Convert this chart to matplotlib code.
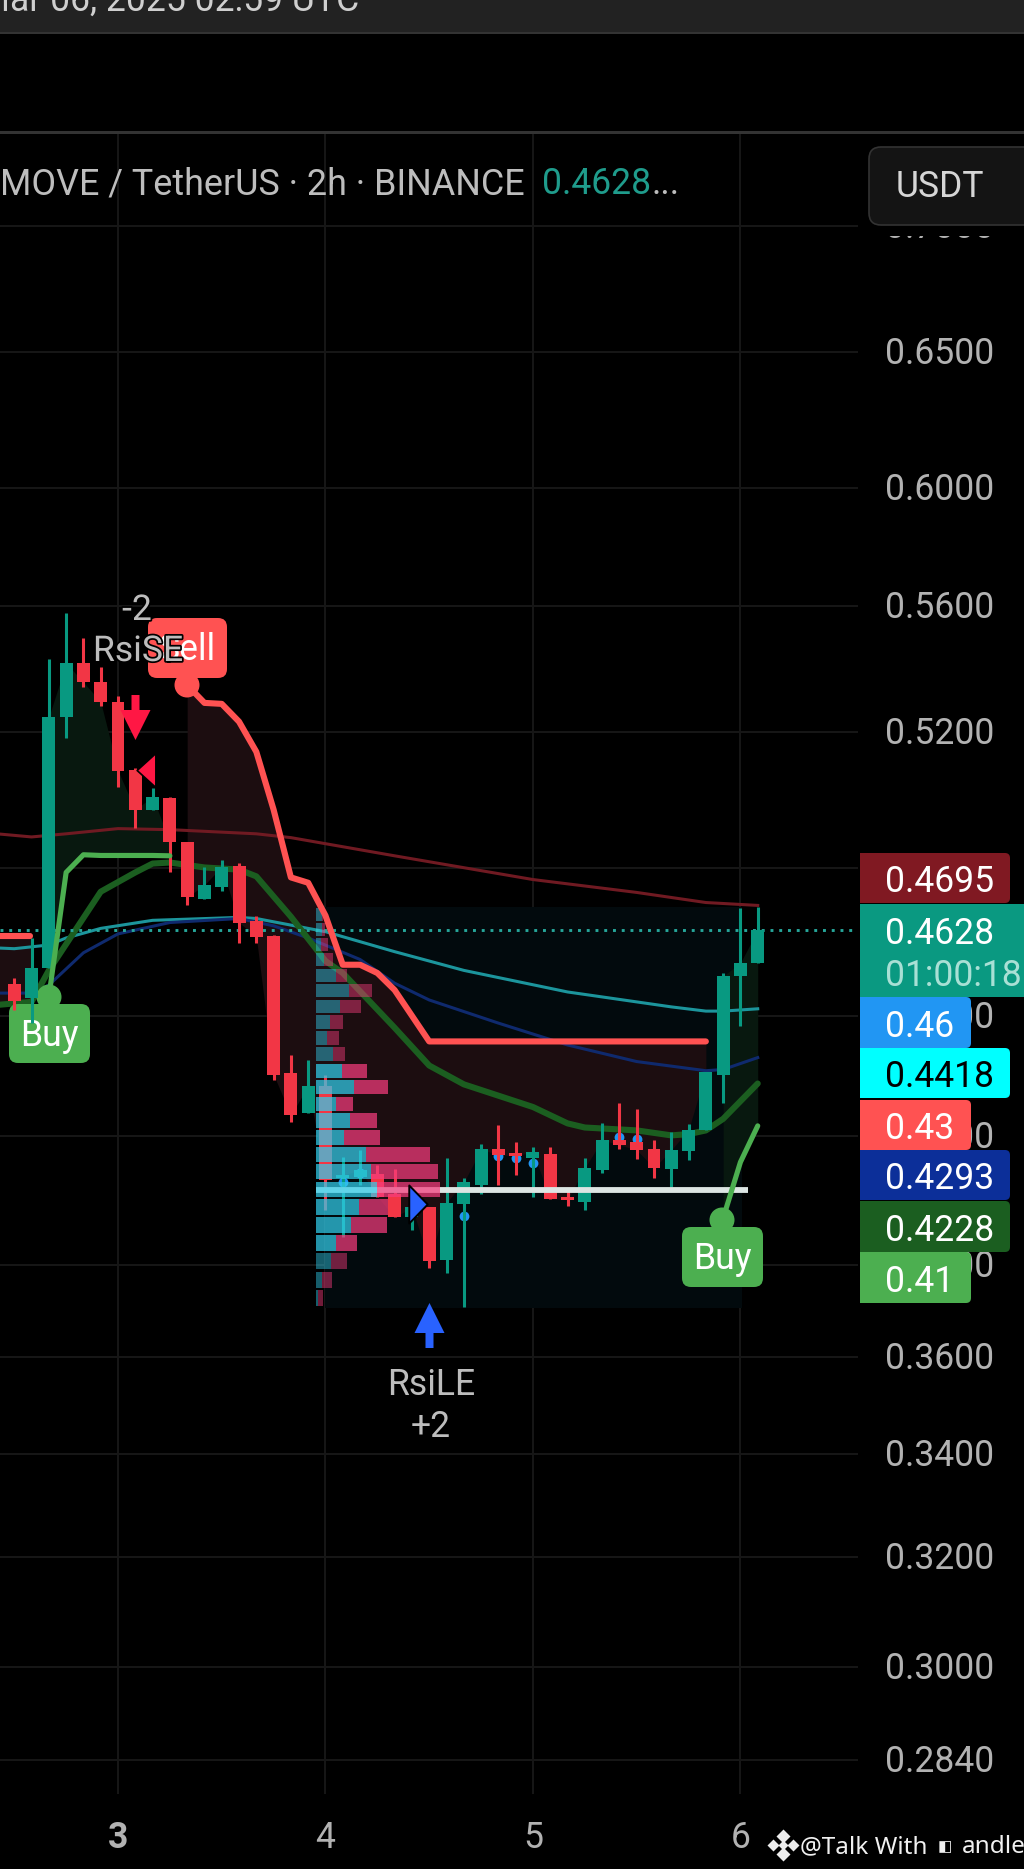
import numpy as np
import matplotlib
matplotlib.use("Agg")
import matplotlib.pyplot as plt
import matplotlib.patheffects as pe
from matplotlib.patches import FancyBboxPatch, Rectangle, Circle
from matplotlib.path import Path
from matplotlib.transforms import Affine2D, blended_transform_factory

plt.rcParams['font.family'] = ['Roboto', 'DejaVu Sans']

# ---------- data ----------
bar_idx = list(range(-6, 38))
opens = [.4483,.4446,.4524,.5245,.5414,.5354,.5292,.5085,.4967,.5002,.4874,.4713,.4746,.4806,.4651,.4612,.4255,
         .4156,.4223,.3999,.4001,.4008,.3961,.3908,.3931,.3810,.3938,.3984,.4068,.4059,.4047,.4056,.3956,.3944,
         .4018,.4090,.4085,.4068,.4020,.4064,.4114,.4250,.4504,.4539]
highs = [.4498,.4606,.5427,.5576,.5494,.5402,.5311,.5091,.5032,.5005,.4874,.4801,.4823,.4815,.4667,.4615,.4300,
         .4288,.4250,.4049,.4066,.4030,.4020,.3931,.3931,.4047,.3999,.4080,.4127,.4085,.4073,.4073,.3968,.4047,
         .4131,.4181,.4164,.4090,.4110,.4129,.4258,.4512,.4688,.4691]
lows = [.4415,.4381,.4524,.5182,.5338,.5279,.5035,.4915,.4967,.4787,.4696,.4713,.4735,.4593,.4593,.4238,.4133,
        .4156,.3926,.3862,.3984,.3956,.3908,.3880,.3794,.3783,.3708,.3961,.3984,.4006,.3956,.3951,.3935,.3924,
        .4011,.4068,.4045,.3999,.3979,.4043,.4114,.4181,.4373,.4539]
closes = [.4439,.4524,.5245,.5414,.5354,.5292,.5082,.4967,.5005,.4874,.4718,.4752,.4803,.4648,.4609,.4250,.4150,
          .4223,.3994,.4006,.4018,.3956,.3908,.3931,.3808,.3942,.3989,.4068,.4054,.4052,.4061,.3951,.3949,.4023,
          .4090,.4078,.4066,.4023,.4066,.4114,.4258,.4504,.4539,.4628]

ema200_x = [-7,-5,-3,0,3,8,10,16,24,30,34,37]
ema200 = [.4897,.4888,.4897,.4912,.4909,.4897,.4886,.4834,.4767,.4731,.4703,.4695]
ema50_x = [-7,-6,-4,-3,-1,2,7,8,12,16,20,26,32,34,35,37]
ema50 = [.4579,.4577,.4587,.4606,.4632,.4654,.4662,.4659,.4623,.4569,.4519,.4462,.4423,.4412,.4412,.4418]
ema100_x = [-7,-5,-4,-2,0,3,7,9,11,14,16,18,22,26,30,34,35,37]
ema100 = [.4459,.4459,.4480,.4566,.4617,.4648,.4659,.4639,.4606,.4548,.4485,.4441,.4381,.4325,.4283,.4260,.4263,.4293]
ema20_x = [-7,-5,-4,-1,1,2,3,5,7,8,10,12,13,16,18,20,24,26,27,30,32,33,34,35,37]
ema20 = [.4428,.4436,.4519,.4733,.4787,.4812,.4815,.4801,.4795,.4776,.4664,.4544,.4512,.4369,.4273,.4226,.4170,
         .4130,.4120,.4113,.4101,.4104,.4113,.4141,.4228]

sell_x = list(range(4, 35))
sell_stop = [.5345,.5289,.5286,.5231,.5139,.4967,.4773,.4758,.4667,.4534,.4534,.4512,.4467,.4400,.4334,.4334,
             .4334,.4334,.4334,.4334,.4334,.4334,.4334,.4334,.4334,.4334,.4334,.4334,.4334,.4334,.4334]
left_stop_x = [-7,-6,-5]
left_stop = [.4612,.4612,.4612]
left_base = [.4436,.4436,.4436]
buy1_x = [-4,-3,-2,-1,0,1,2,3]
buy1_stop = [.4449,.4787,.4837,.4835,.4835,.4835,.4835,.4834]
buy2_x = [35,36,37]
buy2_stop = [.3906,.4037,.4124]

price_ticks = [.70,.65,.60,.56,.52,.48,.44,.41,.38,.36,.34,.32,.30,.284]
day_pos = [0,12,24,36]
day_labels = ['3','4','5','6']

profile_top = 0.4691
profile_bottom = 0.3706
vol_up = [2.3,5.7,15,20,34.7,43,60.7,55,50,28,34,20,38,25.7,16.7,10.7,14,24,33.3,20,8,4.7,5.7,5.7]
vol_dn = [5,10.3,16,20.7,36.3,29.3,63.3,67,64,36,27,16.7,34,25,12,12,12.7,21.3,22.7,11.3,9.3,7.7,3.3,1.7]

poc_price = 0.3971
last_price = 0.4628
dot_x = [13,14,20,22,23,24,29,30]
dot_y = [.3989,.4011,.3910,.4052,.4047,.4035,.4096,.4092]

tag_text = ['0.4695','0.4628','0.46','0.4418','0.43','0.4293','0.4228','0.41']
tag_colors = ['#801922','#0A9981','#2196F3','#00FFFF','#FF5252','#0C2F99','#1B5E20','#4CAF50']
tag_text_colors = ['white','white','white','black','white','white','white','white']

# ---------- figure ----------
W, H = 1024, 1869
fig = plt.figure(figsize=(W/100, H/100), dpi=100, facecolor='black')
ax = fig.add_axes([0, 0, 1, 1], facecolor='black')
ax.set_yscale('log')
PER_BAR = 17.29
ax.set_xlim(-118/PER_BAR, (W-118)/PER_BAR)
ax.set_ylim(0.284*np.exp(-109/1700), 0.284*np.exp(1760/1700))
ax.axis('off')

px = Affine2D().scale(1, -1).translate(0, H)
x_px = blended_transform_factory(ax.transData, px)
px_y = blended_transform_factory(px, ax.transData)
FS = 25.6

# ---------- grid ----------
GRID = '#161616'
for p in price_ticks:
    ax.plot([0, 857], [p, p], color=GRID, lw=1.5, transform=px_y, zorder=0.5, clip_on=False)
for d in day_pos:
    ax.plot([d, d], [134, 1793], color=GRID, lw=1.5, transform=x_px, zorder=0.5)

# ---------- fills ----------
ix = np.array(bar_idx)
C = np.array(closes)
def closes_at(xs):
    return C[np.searchsorted(ix, xs)]

ax.fill_between([11.97, 36.1], profile_bottom, profile_top, color='#020a0d', lw=0, zorder=0.8)
ax.fill_between(sell_x, sell_stop, closes_at(sell_x), color='#1c0d10', lw=0, zorder=1)
ax.fill_between(left_stop_x, left_stop, left_base, color='#1c0d10', lw=0, zorder=1)
ax.fill_between(buy1_x, buy1_stop, closes_at(buy1_x), color='#08180f', lw=0, zorder=1)
ax.fill_between(buy2_x, buy2_stop, closes_at(buy2_x), color='#08180f', lw=0, zorder=1)

# ---------- moving averages ----------
ax.plot(ema200_x, ema200, color='#701a22', lw=2.2, zorder=2)
ax.plot(ema50_x, ema50, color='#1c959c', lw=2.2, zorder=2)
ax.plot(ema100_x, ema100, color='#0f2a6e', lw=2.2, zorder=2)
ax.plot(ema20_x, ema20, color='#1B5E20', lw=4.4, zorder=2, solid_capstyle='round')
ax.plot([-6.825, 42.74], [last_price, last_price], color='#26a69a', lw=2.1, ls=(0, (1, 2)), zorder=2.2)

# ---------- candles ----------
GREEN, RED = '#089981', '#F23645'
cols = [GREEN if c >= o else RED for o, c in zip(opens, closes)]
ax.scatter(dot_x, dot_y, s=50, color='#2196F3', lw=0, zorder=2.9)
ax.vlines(bar_idx, lows, highs, colors=cols, lw=2.2, zorder=3)
ax.bar(bar_idx, np.abs(np.array(closes)-np.array(opens)), bottom=np.minimum(opens, closes),
       width=0.75, color=cols, lw=0, zorder=3.1)

# ---------- value profile ----------
ax.plot([316, 748], [poc_price, poc_price], color='#DDE5E3', lw=4.2, transform=px_y, solid_capstyle='butt', zorder=3.5)
edges = np.linspace(profile_bottom, profile_top, len(vol_up)+1)
h = edges[1]-edges[0]
left0 = (316-118)/PER_BAR
for k, (u, d) in enumerate(zip(vol_up, vol_dn)):
    bright = 3 <= k <= 13
    a = 0.72 if bright else 0.46
    ax.barh(edges[k]+0.07*h, u/PER_BAR, height=0.86*h, left=left0, align='edge',
            color=(50/255, 205/255, 235/255), alpha=a, lw=0, zorder=4)
    ax.barh(edges[k]+0.07*h, d/PER_BAR, height=0.86*h, left=left0+u/PER_BAR, align='edge',
            color=(245/255, 60/255, 125/255), alpha=a, lw=0, zorder=4)

# ---------- stop lines ----------
ax.plot(sell_x, sell_stop, color='#FF5252', lw=4.4, zorder=5, solid_capstyle='round', solid_joinstyle='round')
ax.plot(left_stop_x[:2]+[-5.1], left_stop, color='#FF5252', lw=4.4, zorder=5, solid_capstyle='round')
ax.plot(buy1_x, buy1_stop, color='#4CAF50', lw=3.7, zorder=5, solid_capstyle='round')
ax.plot(buy2_x, buy2_stop, color='#4CAF50', lw=3.7, zorder=5, solid_capstyle='round')

# ---------- markers ----------
down_arrow = Path([(-4,22.5),(4,22.5),(4,7.5),(15,7.5),(0,-22.5),(-15,7.5),(-4,7.5),(-4,22.5)], closed=True)
up_arrow = Path(down_arrow.vertices*[1,-1], closed=True)
ms = 45*0.72
ax.plot([1], [.5244], marker=down_arrow, ms=ms, mfc='#FF1744', mec='none', ls='none', zorder=6)
ax.plot([18], [.3668], marker=up_arrow, ms=ms, mfc='#2962FF', mec='none', ls='none', zorder=6)
left_tri = Path([(8,14.5),(8,-14.5),(-8,0),(8,14.5)], closed=True)
right_tri = Path([(-8.5,17.5),(-8.5,-17.5),(8.5,0),(-8.5,17.5)], closed=True)
ax.plot([1.6], [.5085], marker=left_tri, ms=34*0.72, mfc='#FF1744', mec='black', mew=1.2, ls='none', zorder=6)
ax.plot([17.35], [.3938], marker=right_tri, ms=38*0.72, mfc='#2962FF', mec='black', mew=1.4, ls='none', zorder=6)

# ---------- bubbles ----------
def bubble(x0, y0, x1, y1, cx, cy, color, label, z=2.6):
    ax.add_patch(FancyBboxPatch((x0, y0), x1-x0, y1-y0, boxstyle='round,pad=0,rounding_size=9',
                                fc=color, ec='none', transform=px, zorder=z, clip_on=False))
    ax.add_patch(Circle((cx, cy), 12.5, fc=color, ec='none', transform=px, zorder=z))
    ax.text((x0+x1)/2, (y0+y1)/2+2, label, color='white', fontsize=FS, ha='center', va='center',
            transform=px, zorder=z+0.1)

bubble(148, 618, 227, 678, 187, 685, '#FF5252', 'Sell')
bubble(9, 1004, 90, 1063, 49, 997, '#4CAF50', 'Buy')
bubble(682, 1227, 763, 1287, 722, 1220, '#4CAF50', 'Buy')

stroke = [pe.withStroke(linewidth=2.5, foreground='black')]
GREY = '#BDBDBD'
ax.text(137, 610, '-2', color=GREY, fontsize=FS, ha='center', va='center', transform=px, zorder=7, path_effects=stroke)
ax.text(138, 651, 'RsiSE', color=GREY, fontsize=FS, ha='center', va='center', transform=px, zorder=7, path_effects=stroke)
ax.text(431, 1385, 'RsiLE', color=GREY, fontsize=FS, ha='center', va='center', transform=px, zorder=7)
ax.text(431, 1427, '+2', color=GREY, fontsize=FS, ha='center', va='center', transform=px, zorder=7)

# ---------- price axis ----------
tick_tf = px_y + Affine2D().translate(0, 2)
for p in price_ticks:
    ax.text(885, p, f'{p:.4f}', color='#B2B2B2', fontsize=FS, ha='left', va='center_baseline',
            transform=tick_tf, zorder=7)

# ---------- price tags ----------
tag_geo = [(853,903,1010),(904,997,1040),(997,1048,971),(1048,1098,1010),(1100,1150,971),(1150,1200,1010),(1201,1252,1010),(1252,1303,971)]
for (y0, y1, x1), t, c, tc in zip(tag_geo, tag_text, tag_colors, tag_text_colors):
    ax.add_patch(FancyBboxPatch((860, y0), x1-860, y1-y0, boxstyle='round,pad=0,rounding_size=5',
                                fc=c, ec='none', transform=px, zorder=8, clip_on=False))
    ax.add_patch(Rectangle((860, y0), 20, y1-y0, fc=c, ec='none', transform=px, zorder=8))
    yc = 930 if t == '0.4628' else (y0+y1)/2
    ax.text(885, yc, t, color=tc, fontsize=FS, ha='left', va='center_baseline', transform=px, zorder=9)
ax.text(885, 972, '01:00:18', color='#A9E0D5', fontsize=FS, ha='left', va='center_baseline', transform=px, zorder=9)

# ---------- dates ----------
for d, lab in zip(day_pos, day_labels):
    ax.text(d, 1838, lab, color='#B2B2B2', fontsize=FS, ha='center', va='center', transform=x_px,
            fontweight='bold' if lab == '3' else 'normal', zorder=7)

# ---------- header ----------
ax.add_patch(Rectangle((0, 0), W, 32, fc='#222222', ec='none', transform=px, zorder=10))
ax.add_patch(Rectangle((0, 32), W, 2, fc='#333333', ec='none', transform=px, zorder=10))
ax.add_patch(Rectangle((0, 131), W, 3, fc='#333333', ec='none', transform=px, zorder=10))
ax.text(359, 11, 'Mar 06, 2025 02:59 UTC', color='#CFCFCF', fontsize=FS, ha='right', va='baseline', transform=px, zorder=11)
ax.text(0, 184, 'MOVE / TetherUS · 2h · BINANCE', color='#BDBDBD', fontsize=25.8, ha='left', va='center', transform=px, zorder=11)
ax.text(542, 184, '0.4628', color='#1F9C8C', fontsize=FS, ha='left', va='center', transform=px, zorder=11)
ax.text(651, 184, '...', color='#BDBDBD', fontsize=FS, ha='left', va='center', transform=px, zorder=11)

ax.add_patch(Rectangle((860, 225), 164, 11, fc='black', ec='none', transform=px, zorder=10))
ax.add_patch(FancyBboxPatch((869, 147), 190, 78, boxstyle='round,pad=0,rounding_size=12',
                            fc='#141414', ec='#333333', lw=1.2, transform=px, zorder=10.5, clip_on=True))
ax.text(896, 187, 'USDT', color='#D6D6D6', fontsize=FS, ha='left', va='center', transform=px, zorder=11)

# ---------- watermark ----------
for dx, dy, s in [(-10,0,22),(10,0,22),(0,-9,30),(0,9,30),(0,0,14)]:
    ax.plot([783+dx], [1845+dy], marker='D', ms=s**0.5*1.3, color='#EDEDED', mec='none', transform=px, zorder=11)
ax.text(800, 1847, '@Talk With', color='#F0F0F0', fontsize=17.5, family=['Noto Sans','DejaVu Sans'],
        ha='left', va='center', transform=px, zorder=11)
ax.text(938, 1847, '◧', color='#F0F0F0', fontsize=11, family=['DejaVu Sans'], ha='left', va='center', transform=px, zorder=11)
ax.text(962, 1847, 'andle', color='#F0F0F0', fontsize=17.5, family=['Noto Sans','DejaVu Sans'],
        ha='left', va='center', transform=px, zorder=11)

fig.savefig('out.png', dpi=100, facecolor='black')
